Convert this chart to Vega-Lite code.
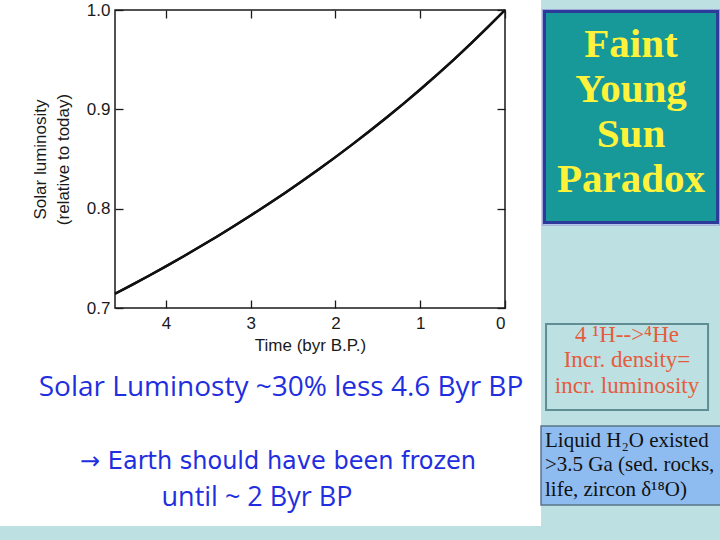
{
  "$schema": "https://vega.github.io/schema/vega-lite/v6.json",
  "width": 390,
  "height": 298,
  "autosize": {"type": "none"},
  "padding": {"left": 115, "top": 10, "right": 215, "bottom": 232},
  "background": "white",
  "view": {"stroke": "#1a1a1a", "strokeWidth": 1.5},
  "datasets": {
    "lum": [
      {"t": 0.0, "L": 1.0},
      {"t": 0.2, "L": 0.9829},
      {"t": 0.4, "L": 0.9664},
      {"t": 0.6, "L": 0.9504},
      {"t": 0.8, "L": 0.935},
      {"t": 1.0, "L": 0.92},
      {"t": 1.2, "L": 0.9055},
      {"t": 1.4, "L": 0.8915},
      {"t": 1.6, "L": 0.8779},
      {"t": 1.8, "L": 0.8647},
      {"t": 2.0, "L": 0.8519},
      {"t": 2.2, "L": 0.8394},
      {"t": 2.4, "L": 0.8273},
      {"t": 2.6, "L": 0.8156},
      {"t": 2.8, "L": 0.8042},
      {"t": 3.0, "L": 0.7931},
      {"t": 3.2, "L": 0.7823},
      {"t": 3.4, "L": 0.7718},
      {"t": 3.6, "L": 0.7616},
      {"t": 3.8, "L": 0.7516},
      {"t": 4.0, "L": 0.7419},
      {"t": 4.2, "L": 0.7325},
      {"t": 4.4, "L": 0.7233},
      {"t": 4.6, "L": 0.7143}
    ]
  },
  "data": {"name": "lum"},
  "resolve": {"axis": {"x": "independent", "y": "independent"}},
  "layer": [
    {
      "data": {"values": [{"part": "right panel"}]},
      "mark": {"type": "rect", "fill": "#bde0e2"},
      "encoding": {
        "x": {"datum": -0.425, "type": "quantitative", "scale": {"domain": [0, 4.6], "reverse": true, "nice": false, "zero": false}, "axis": null},
        "x2": {"datum": -2.8},
        "y": {"datum": 1.03, "type": "quantitative", "scale": {"domain": [0.7, 1.0], "nice": false, "zero": false}, "axis": null},
        "y2": {"datum": 0.43}
      }
    },
    {
      "data": {"values": [{"part": "bottom strip"}]},
      "mark": {"type": "rect", "fill": "#bde0e2"},
      "encoding": {
        "x": {"datum": 6.3, "type": "quantitative", "scale": {"domain": [0, 4.6], "reverse": true, "nice": false, "zero": false}, "axis": null},
        "x2": {"datum": -0.425},
        "y": {"datum": 0.4805, "type": "quantitative", "scale": {"domain": [0.7, 1.0], "nice": false, "zero": false}, "axis": null},
        "y2": {"datum": 0.43}
      }
    },
    {
      "data": {"values": [{"part": "title box outline"}]},
      "mark": {"type": "rect", "fillOpacity": 0, "stroke": "#9ea6dc", "strokeWidth": 1.2},
      "encoding": {
        "x": {"datum": -0.442, "type": "quantitative", "scale": {"domain": [0, 4.6], "reverse": true, "nice": false, "zero": false}, "axis": null},
        "x2": {"datum": -2.53},
        "y": {"datum": 1.0005, "type": "quantitative", "scale": {"domain": [0.7, 1.0], "nice": false, "zero": false}, "axis": null},
        "y2": {"datum": 0.7835}
      }
    },
    {
      "data": {"values": [{"part": "title box"}]},
      "mark": {"type": "rect", "fill": "#17999a", "stroke": "#2c3a9a", "strokeWidth": 3},
      "encoding": {
        "x": {"datum": -0.466, "type": "quantitative", "scale": {"domain": [0, 4.6], "reverse": true, "nice": false, "zero": false}, "axis": null},
        "x2": {"datum": -2.507},
        "y": {"datum": 0.9985, "type": "quantitative", "scale": {"domain": [0.7, 1.0], "nice": false, "zero": false}, "axis": null},
        "y2": {"datum": 0.7861}
      }
    },
    {
      "data": {"values": [{"label": ["Faint", "Young", "Sun", "Paradox"]}]},
      "mark": {"type": "text", "font": "Liberation Serif", "fontWeight": "bold", "fontSize": 41, "lineHeight": 45, "color": "#fff23a", "align": "center", "baseline": "alphabetic"},
      "encoding": {
        "x": {"datum": -1.486, "type": "quantitative", "scale": {"domain": [0, 4.6], "reverse": true, "nice": false, "zero": false}, "axis": null},
        "y": {"datum": 0.9527, "type": "quantitative", "scale": {"domain": [0.7, 1.0], "nice": false, "zero": false}, "axis": null},
        "text": {"field": "label"}
      }
    },
    {
      "data": {"values": [{"part": "fusion box"}]},
      "mark": {"type": "rect", "fillOpacity": 0, "stroke": "#5f8d93", "strokeWidth": 2},
      "encoding": {
        "x": {"datum": -0.484, "type": "quantitative", "scale": {"domain": [0, 4.6], "reverse": true, "nice": false, "zero": false}, "axis": null},
        "x2": {"datum": -2.395},
        "y": {"datum": 0.6839, "type": "quantitative", "scale": {"domain": [0.7, 1.0], "nice": false, "zero": false}, "axis": null},
        "y2": {"datum": 0.5973}
      }
    },
    {
      "data": {"values": [{"label": ["4 ¹H-->⁴He", "Incr. density=", "incr. luminosity"]}]},
      "mark": {"type": "text", "font": "Liberation Serif", "fontSize": 23, "lineHeight": 25.5, "color": "#e65c3c", "align": "center", "baseline": "alphabetic"},
      "encoding": {
        "x": {"datum": -1.439, "type": "quantitative", "scale": {"domain": [0, 4.6], "reverse": true, "nice": false, "zero": false}, "axis": null},
        "y": {"datum": 0.666, "type": "quantitative", "scale": {"domain": [0.7, 1.0], "nice": false, "zero": false}, "axis": null},
        "text": {"field": "label"}
      }
    },
    {
      "data": {"values": [{"part": "water box"}]},
      "mark": {"type": "rect", "fill": "#8fbcf0", "stroke": "#5a7488", "strokeWidth": 1.5},
      "encoding": {
        "x": {"datum": -0.425, "type": "quantitative", "scale": {"domain": [0, 4.6], "reverse": true, "nice": false, "zero": false}, "axis": null},
        "x2": {"datum": -2.58},
        "y": {"datum": 0.5812, "type": "quantitative", "scale": {"domain": [0.7, 1.0], "nice": false, "zero": false}, "axis": null},
        "y2": {"datum": 0.5017}
      }
    },
    {
      "data": {"values": [{"label": ["Liquid H₂O existed", ">3.5 Ga (sed. rocks,", "life, zircon δ¹⁸O)"]}]},
      "mark": {"type": "text", "font": "Liberation Serif", "fontSize": 21, "lineHeight": 24.5, "color": "#111111", "align": "left", "baseline": "alphabetic"},
      "encoding": {
        "x": {"datum": -0.472, "type": "quantitative", "scale": {"domain": [0, 4.6], "reverse": true, "nice": false, "zero": false}, "axis": null},
        "y": {"datum": 0.5601, "type": "quantitative", "scale": {"domain": [0.7, 1.0], "nice": false, "zero": false}, "axis": null},
        "text": {"field": "label"}
      }
    },
    {
      "data": {"values": [{"label": "Solar Luminosty ~30% less 4.6 Byr BP"}]},
      "mark": {"type": "text", "font": "Open Sans", "fontSize": 28, "color": "#1f2fe0", "align": "center", "baseline": "middle"},
      "encoding": {
        "x": {"datum": 2.642, "type": "quantitative", "scale": {"domain": [0, 4.6], "reverse": true, "nice": false, "zero": false}, "axis": null},
        "y": {"datum": 0.6194, "type": "quantitative", "scale": {"domain": [0.7, 1.0], "nice": false, "zero": false}, "axis": null},
        "text": {"field": "label"}
      }
    },
    {
      "data": {"values": [{"label": "→ Earth should have been frozen"}]},
      "mark": {"type": "text", "font": "DejaVu Sans", "fontSize": 24, "color": "#1f2fe0", "align": "center", "baseline": "middle"},
      "encoding": {
        "x": {"datum": 2.677, "type": "quantitative", "scale": {"domain": [0, 4.6], "reverse": true, "nice": false, "zero": false}, "axis": null},
        "y": {"datum": 0.545, "type": "quantitative", "scale": {"domain": [0.7, 1.0], "nice": false, "zero": false}, "axis": null},
        "text": {"field": "label"}
      }
    },
    {
      "data": {"values": [{"label": "until ~ 2 Byr BP"}]},
      "mark": {"type": "text", "font": "Open Sans", "fontSize": 27, "color": "#1f2fe0", "align": "center", "baseline": "middle"},
      "encoding": {
        "x": {"datum": 2.925, "type": "quantitative", "scale": {"domain": [0, 4.6], "reverse": true, "nice": false, "zero": false}, "axis": null},
        "y": {"datum": 0.5087, "type": "quantitative", "scale": {"domain": [0.7, 1.0], "nice": false, "zero": false}, "axis": null},
        "text": {"field": "label"}
      }
    },
    {
      "mark": {"type": "line", "color": "#111111", "strokeWidth": 2.4},
      "encoding": {
        "x": {"field": "t", "type": "quantitative", "scale": {"domain": [0, 4.6], "reverse": true, "nice": false, "zero": false},
          "axis": {"orient": "bottom", "title": "Time (byr B.P.)", "values": [0, 1, 2, 3, 4], "format": "d", "domain": false, "grid": false,
            "tickSize": -8, "tickColor": "#1a1a1a", "tickWidth": 1.3, "labelPadding": 15, "labelFont": "Liberation Sans", "labelFontSize": 17, "labelColor": "#1a1a1a",
            "titleFont": "Liberation Sans", "titleFontSize": 17, "titleFontWeight": "normal", "titleColor": "#1a1a1a", "titlePadding": 6, "zindex": 1}},
        "y": {"field": "L", "type": "quantitative", "scale": {"domain": [0.7, 1.0], "nice": false, "zero": false},
          "axis": {"orient": "left", "title": ["Solar luminosity", "(relative to today)"], "values": [0.7, 0.8, 0.9, 1.0], "format": ".1f", "domain": false, "grid": false,
            "tickSize": -8, "tickColor": "#1a1a1a", "tickWidth": 1.3, "labelPadding": 13, "labelFont": "Liberation Sans", "labelFontSize": 17, "labelColor": "#1a1a1a",
            "titleFont": "Liberation Sans", "titleFontSize": 17, "titleFontWeight": "normal", "titleColor": "#1a1a1a", "titleLineHeight": 23, "titlePadding": 14, "zindex": 1}}
      }
    },
    {
      "mark": {"type": "line", "color": "#111111", "strokeWidth": 2.4},
      "encoding": {
        "x": {"field": "t", "type": "quantitative", "scale": {"domain": [0, 4.6], "reverse": true, "nice": false, "zero": false},
          "axis": {"orient": "top", "title": null, "values": [0, 1, 2, 3, 4], "labels": false, "domain": false, "grid": false, "tickSize": -8, "tickColor": "#1a1a1a", "tickWidth": 1.3, "zindex": 1}},
        "y": {"field": "L", "type": "quantitative", "scale": {"domain": [0.7, 1.0], "nice": false, "zero": false},
          "axis": {"orient": "right", "title": null, "values": [0.7, 0.8, 0.9, 1.0], "labels": false, "domain": false, "grid": false, "tickSize": -8, "tickColor": "#1a1a1a", "tickWidth": 1.3, "zindex": 1}}
      }
    }
  ]
}
